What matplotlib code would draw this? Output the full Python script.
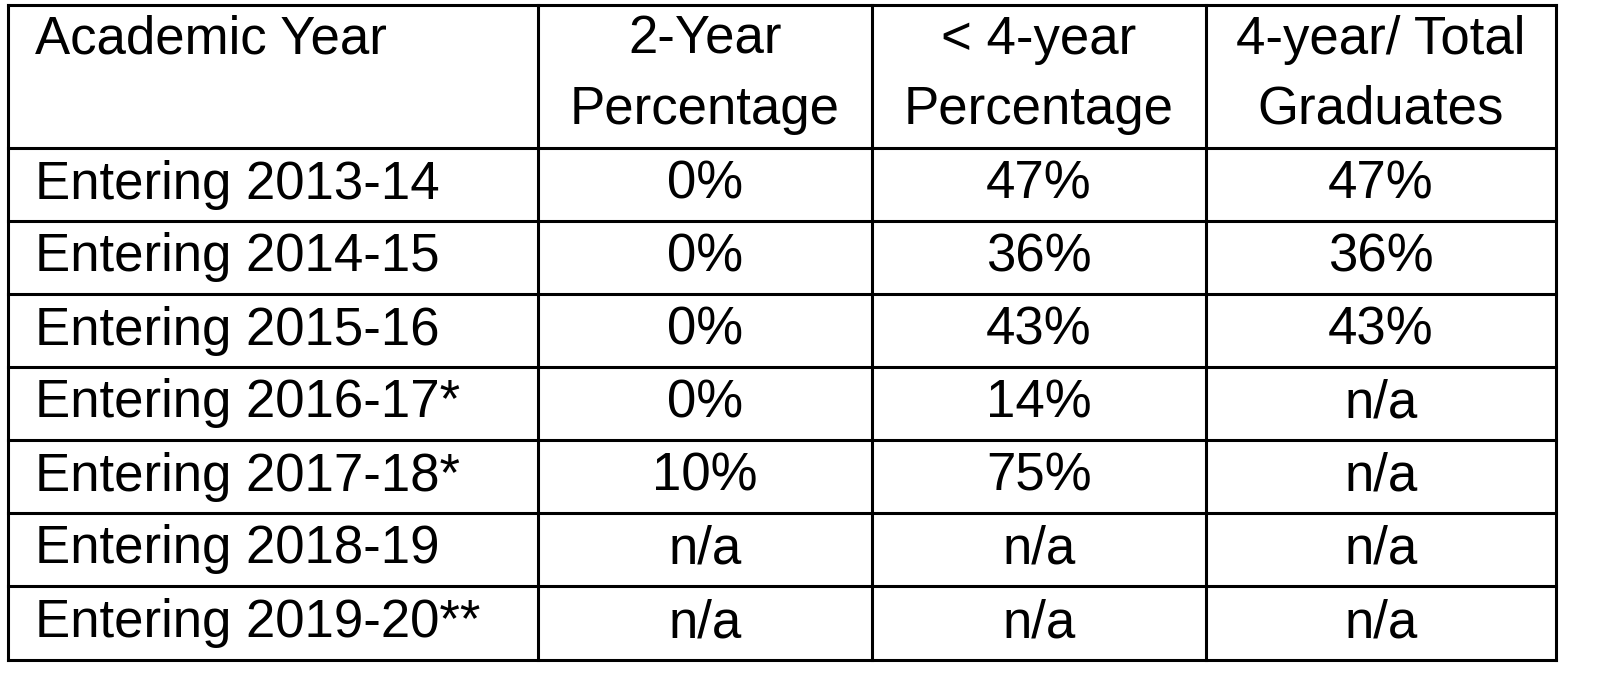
import matplotlib.pyplot as plt

plt.rcParams['font.family'] = ['Liberation Sans', 'DejaVu Sans']

headers = ["Academic Year", "2-Year", "Percentage", "< 4-year", "Percentage", "4-year/ Total", "Graduates"]
years = ["Entering 2013-14", "Entering 2014-15", "Entering 2015-16", "Entering 2016-17*",
         "Entering 2017-18*", "Entering 2018-19", "Entering 2019-20**"]
two_year = ["0%", "0%", "0%", "0%", "10%", "n/a", "n/a"]
lt_four_year = ["47%", "36%", "43%", "14%", "75%", "n/a", "n/a"]
four_year_total = ["47%", "36%", "43%", "n/a", "n/a", "n/a", "n/a"]

col_x = [8, 538, 872, 1206, 1556]
row_y = [5, 148, 221, 294, 367, 440, 513, 586, 660]

fig = plt.figure(figsize=(16, 6.81), dpi=100)
ax = fig.add_axes([0, 0, 1, 1])
ax.set_xlim(0, 1600)
ax.set_ylim(681, 0)
ax.axis("off")

for x in col_x:
    ax.plot([x, x], [row_y[0], row_y[-1]], color="black", lw=2.2)
for y in row_y:
    ax.plot([col_x[0], col_x[-1]], [y, y], color="black", lw=2.2)

fs = 38
# header
ax.text(35, 40, headers[0], fontsize=fs, ha="left", va="center")
for i in range(1, 4):
    cx = (col_x[i] + col_x[i + 1]) / 2
    ax.text(cx, 40, headers[2 * i - 1], fontsize=fs, ha="center", va="center")
    ax.text(cx, 110, headers[2 * i], fontsize=fs, ha="center", va="center")

columns = [two_year, lt_four_year, four_year_total]
for r, year in enumerate(years):
    cy = (row_y[r + 1] + row_y[r + 2]) / 2
    ax.text(35, cy, year, fontsize=fs, ha="left", va="center")
    for c, col in enumerate(columns):
        cx = (col_x[c + 1] + col_x[c + 2]) / 2
        ax.text(cx, cy, col[r], fontsize=fs, ha="center", va="center")

fig.savefig("out.png", dpi=100, facecolor="white")
